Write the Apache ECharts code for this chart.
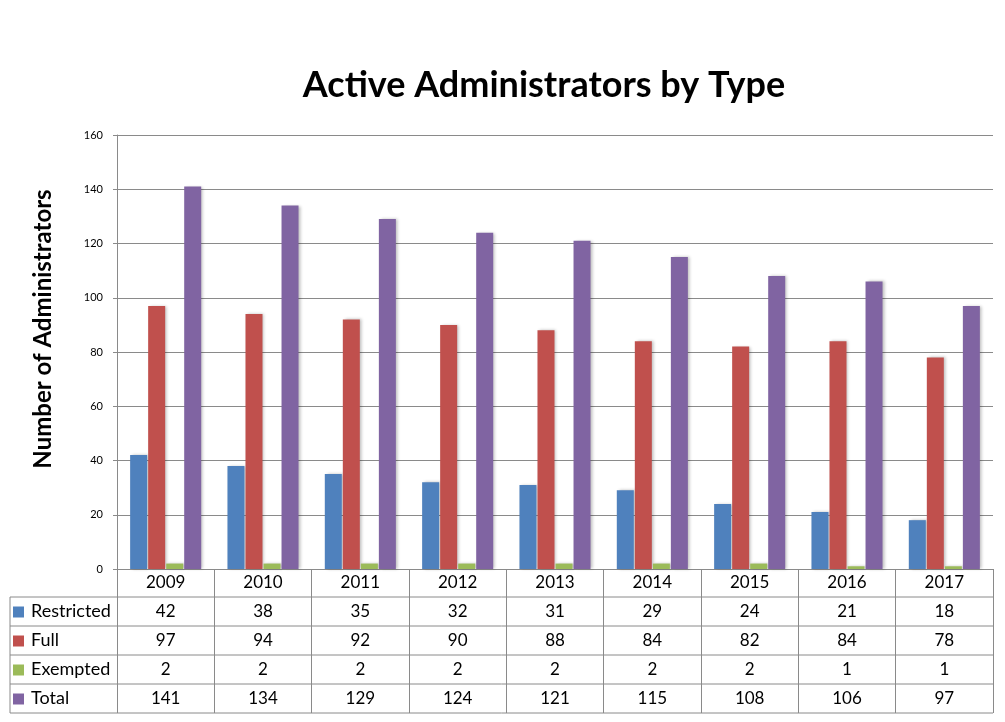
<!DOCTYPE html>
<html>
<head>
<meta charset="utf-8">
<script src="https://cdn.jsdelivr.net/npm/echarts@6/dist/echarts.min.js"></script>
<style>
  html, body { margin: 0; padding: 0; background: #fff; }
  #chart { width: 1005px; height: 722px; }
</style>
</head>
<body>
<div id="chart"></div>
<script>
const years = ['2009', '2010', '2011', '2012', '2013', '2014', '2015', '2016', '2017'];
const seriesNames = ['Restricted', 'Full', 'Exempted', 'Total'];
const restricted = [42, 38, 35, 32, 31, 29, 24, 21, 18];
const full = [97, 94, 92, 90, 88, 84, 82, 84, 78];
const exempted = [2, 2, 2, 2, 2, 2, 2, 1, 1];
const total = [141, 134, 129, 124, 121, 115, 108, 106, 97];
const colors = ['#4F81BD', '#C0504D', '#9BBB59', '#8064A2'];

const allValues = [restricted, full, exempted, total];
const font = 'Lato, "Open Sans", sans-serif';
const lineColor = '#8a8a8a';

const chart = echarts.init(document.getElementById('chart'));

// rows of the data table sit under the x axis, one per series
const rowTop = 597, rowH = 29, tableLeft = 10, tableRight = 993;
const graphic = [];
for (let r = 0; r <= seriesNames.length; r += 1) {
  graphic.push({
    type: 'line',
    shape: { x1: tableLeft, y1: rowTop + r * rowH, x2: tableRight, y2: rowTop + r * rowH },
    style: { stroke: lineColor, lineWidth: 1 }
  });
}
graphic.push({
  type: 'line',
  shape: { x1: tableLeft, y1: rowTop, x2: tableLeft, y2: rowTop + seriesNames.length * rowH },
  style: { stroke: lineColor, lineWidth: 1 }
});
seriesNames.forEach((name, i) => {
  const cy = rowTop + i * rowH + rowH / 2;
  graphic.push({
    type: 'rect',
    shape: { x: 13, y: cy - 5, width: 11, height: 11 },
    style: { fill: colors[i] }
  });
  graphic.push({
    type: 'text',
    x: 31, y: cy,
    style: { text: name, font: '18px ' + font, fill: '#000', verticalAlign: 'middle' }
  });
});
graphic.push({
  type: 'text',
  x: 43, y: 329,
  rotation: Math.PI / 2,
  style: {
    text: 'Number of Administrators',
    font: 'bold 24px ' + font,
    fill: '#000',
    align: 'center',
    verticalAlign: 'middle'
  }
});

const option = {
  backgroundColor: '#fff',
  animation: false,
  title: {
    text: 'Active Administrators by Type',
    left: 539,
    textAlign: 'center',
    top: 62,
    textStyle: { fontFamily: font, fontWeight: 'bold', fontSize: 36, color: '#000' }
  },
  grid: { left: 117, right: 12, top: 135, bottom: 153 },
  xAxis: {
    type: 'category',
    data: years,
    axisLine: { lineStyle: { color: lineColor } },
    axisTick: { show: true, length: 144, interval: 0, lineStyle: { color: lineColor } },
    axisLabel: {
      interval: 0,
      margin: 0,
      formatter: (val, idx) => {
        return ['{yr|' + val + '}'].concat(allValues.map(a => '{v|' + a[idx] + '}')).join('\n');
      },
      rich: {
        yr: { fontFamily: font, fontSize: 17, color: '#000', lineHeight: 28 },
        v: { fontFamily: font, fontSize: 17, color: '#000', lineHeight: 29 }
      }
    }
  },
  yAxis: {
    type: 'value',
    min: 0,
    max: 160,
    interval: 20,
    axisLine: { show: true, lineStyle: { color: lineColor } },
    axisTick: { show: true, length: 4, lineStyle: { color: lineColor } },
    axisLabel: { fontFamily: font, fontSize: 11, color: '#000', margin: 14 },
    splitLine: { lineStyle: { color: lineColor, width: 1 } }
  },
  series: seriesNames.map((name, i) => ({
    name: name,
    type: 'bar',
    data: allValues[i],
    barWidth: 17,
    barGap: '6%',
    itemStyle: {
      color: colors[i],
      shadowColor: 'rgba(0,0,0,0.25)',
      shadowBlur: 3,
      shadowOffsetX: 2
    }
  })),
  graphic: graphic
};

chart.setOption(option);
</script>
</body>
</html>
